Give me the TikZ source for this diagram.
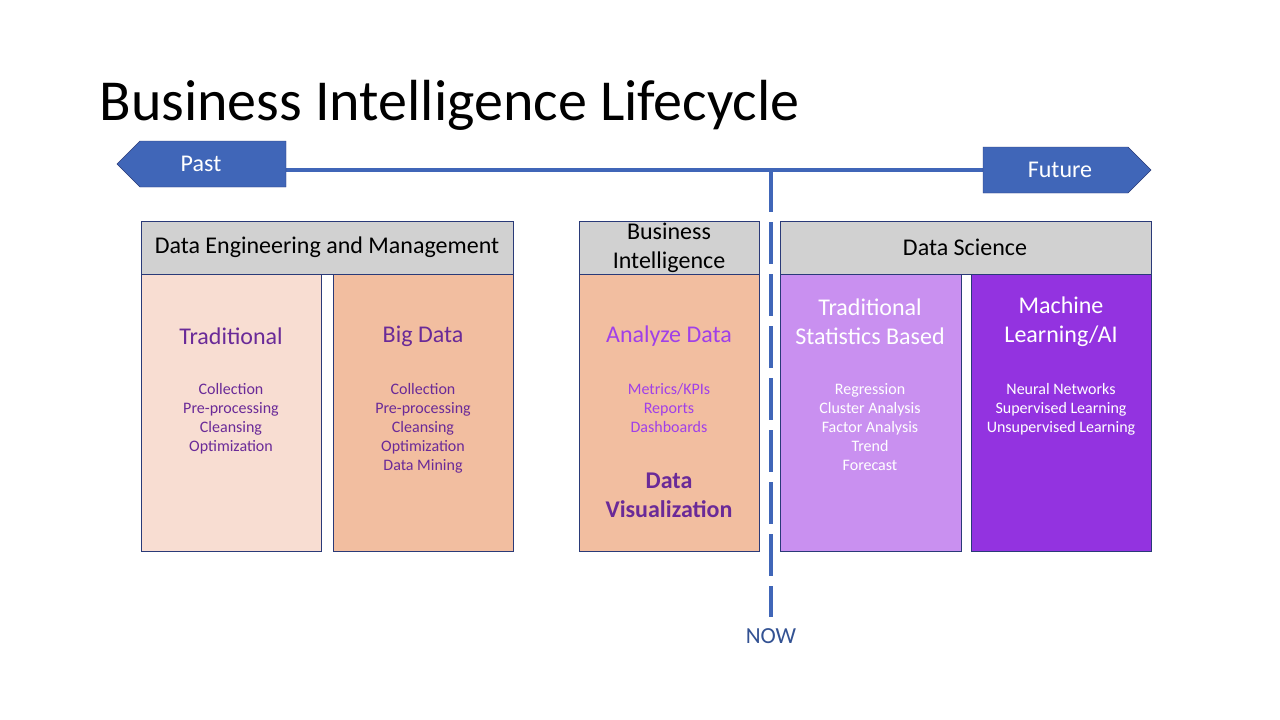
\documentclass[tikz,border=0pt]{standalone}
\usepackage{fontspec}
\setmainfont{Carlito}
\begin{document}
\begin{tikzpicture}[x=1pt,y=-1pt,
 bx/.style={draw=bd,line width=0.9pt},
 hd/.style={bx,fill=black!18},
 tl/.style={font=\fontsize{24}{33}\selectfont,align=center},
 it/.style={font=\fontsize{16}{19}\selectfont,align=center}]
\definecolor{bl}{HTML}{4066B8}
\definecolor{bd}{HTML}{2A3A78}
\definecolor{pu}{HTML}{6A2A98}
\definecolor{lp}{HTML}{A040E8}
\definecolor{lo}{HTML}{F8DDD2}
\definecolor{mo}{HTML}{F2BEA0}
\definecolor{sp}{HTML}{C990F0}\definecolor{mp}{HTML}{9333E0}
\useasboundingbox (0,0) rectangle (1280,720);
\fill[white] (0,0) rectangle (1280,720);
\node[anchor=west,font=\fontsize{58}{60}\selectfont] (title) at (96,105) {Business Intelligence Lifecycle};
% timeline
\coordinate (tl1) at (286,170); \coordinate (tl2) at (983,170);
\draw[bl,line width=4pt] (tl1) -- (tl2);
\fill[bl,draw=bd] (286,141) -- (286,187) -- (140,187) -- (117,164) -- (140,141) -- cycle;
\node[white,font=\fontsize{24}{26}\selectfont] (past) at (201,164) {Past};
\fill[bl,draw=bd] (983,147) -- (1128,147) -- (1151,170) -- (1128,193) -- (983,193) -- cycle;
\node[white,font=\fontsize{24}{26}\selectfont] (fut) at (1060,170) {Future};
\coordinate (n1) at (771,170); \coordinate (n2) at (771,617);
\draw[bl,line width=4pt,dash pattern=on 42pt off 10pt] (n1) -- (n2);
\node[bl!80!black,font=\fontsize{23}{25}\selectfont] (now) at (771,636) {NOW};
% boxes
\draw[hd] (141,221) rectangle (513,274);
\node[font=\fontsize{24}{27}\selectfont] (h1) at (327,247) {Data Engineering and Management};
\draw[bx,fill=lo] (141,274) rectangle (321,551);
\draw[bx,fill=mo] (333,274) rectangle (513,551);
\node[tl,pu] (t1) at (231,336) {Traditional};
\node[it,pu,anchor=north] (i1) at (231,380) {Collection\\Pre-processing\\Cleansing\\Optimization};
\node[tl,pu] (t2) at (423,336) {Big Data};
\node[it,pu,anchor=north] (i2) at (423,380) {Collection\\Pre-processing\\Cleansing\\Optimization\\Data Mining};
\draw[hd] (579,221) rectangle (759,274);
\node[font=\fontsize{24}{29}\selectfont,align=center] (h2) at (669,248) {Business\\Intelligence};
\draw[bx,fill=mo] (579,274) rectangle (759,551);
\node[tl,lp] (t3) at (669,336) {Analyze Data};
\node[it,lp,anchor=north] (i3) at (669,380) {Metrics/KPIs\\Reports\\Dashboards};
\node[pu,font=\bfseries\fontsize{24}{29}\selectfont,align=center] (t3b) at (669,495) {Data\\Visualization};
\draw[hd] (780,221) rectangle (1151,274);
\node[font=\fontsize{24}{27}\selectfont] (h3) at (965,247) {Data Science};
\draw[bx,fill=sp] (780,274) rectangle (961,551);
\draw[bx,fill=mp] (971,274) rectangle (1151,551);
\node[tl,white,font=\fontsize{24}{29}\selectfont] (t4) at (870,322) {Traditional\\Statistics Based};
\node[it,white,anchor=north] (i4) at (870,380) {Regression\\Cluster Analysis\\Factor Analysis\\Trend\\Forecast};
\node[tl,white,font=\fontsize{24}{29}\selectfont] (t5) at (1061,322) {Machine\\Learning/AI};
\node[it,white,anchor=north] (i5) at (1061,380) {Neural Networks\\Supervised Learning\\Unsupervised Learning};
\end{tikzpicture}
\end{document}
